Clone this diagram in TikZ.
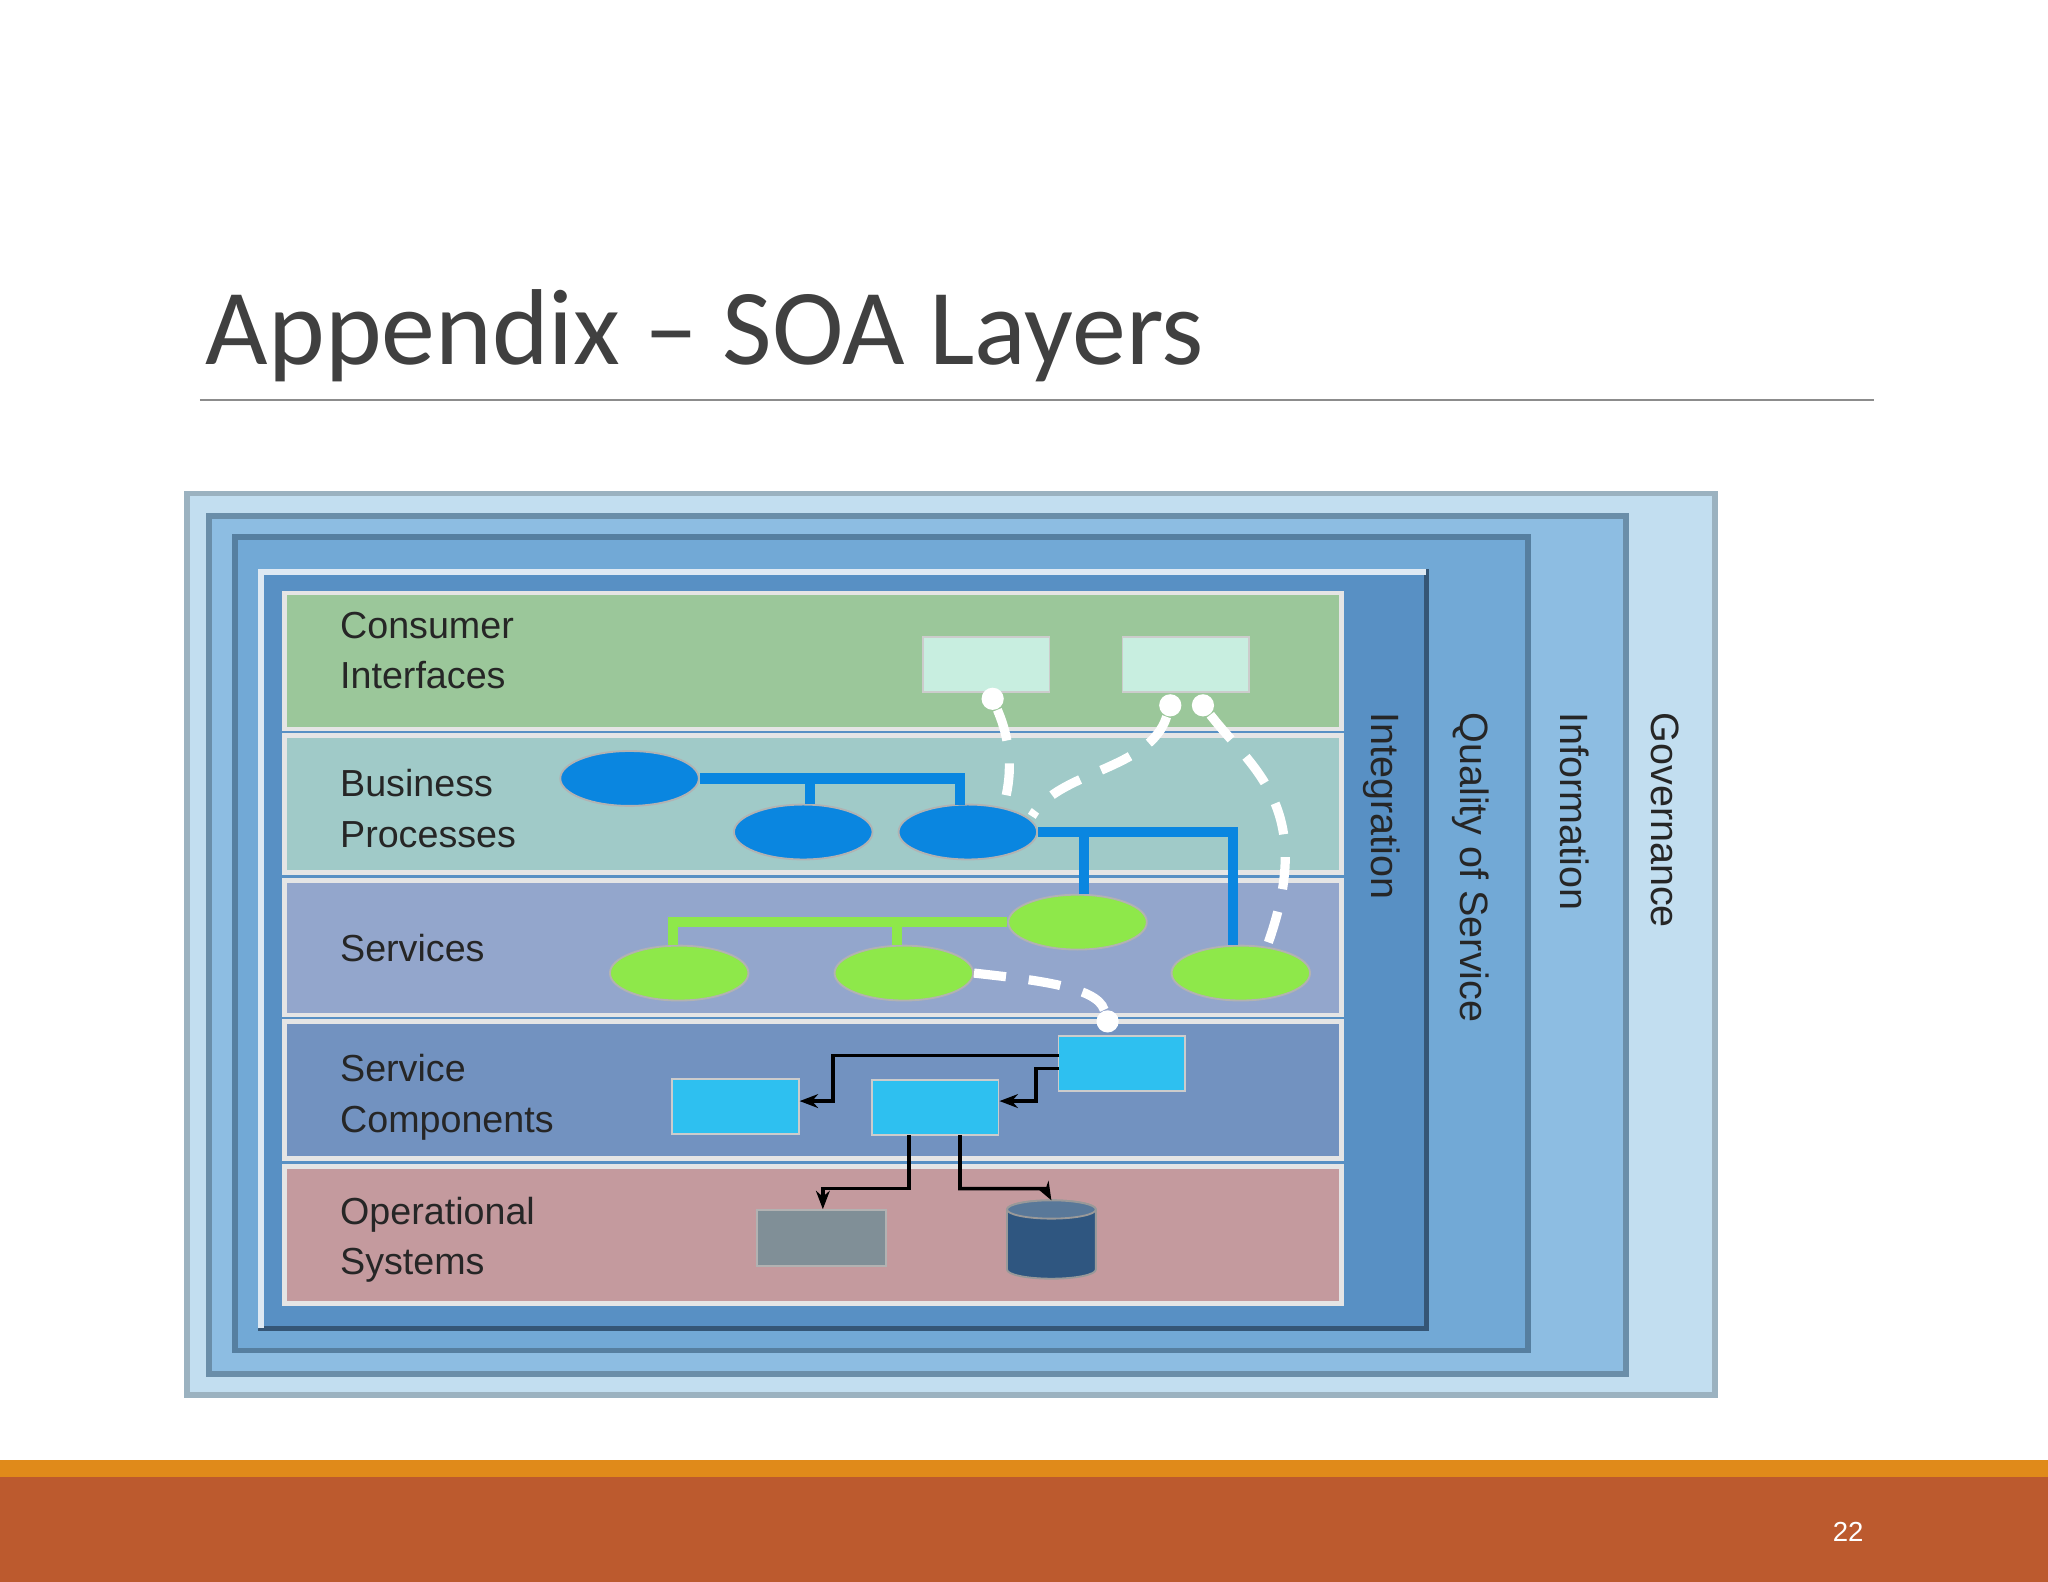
\documentclass[tikz,border=0pt]{standalone}
\usepackage{fontspec}
\setmainfont{Liberation Sans}
\newfontfamily\titlefont{Carlito}
\usetikzlibrary{arrows.meta,shapes.geometric}
\definecolor{gov}{HTML}{C2DEF0}
\definecolor{info}{HTML}{8DBDE2}
\definecolor{qos}{HTML}{72A9D6}
\definecolor{integ}{HTML}{5890C4}
\definecolor{cons}{HTML}{9BC79A}
\definecolor{bus}{HTML}{A0CAC8}
\definecolor{serv}{HTML}{93A6CC}
\definecolor{scomp}{HTML}{7292C0}
\definecolor{ops}{HTML}{C49A9E}
\definecolor{bblue}{HTML}{0A86E0}
\definecolor{lgreen}{HTML}{8EE84A}
\definecolor{cyanbox}{HTML}{2EC0F0}
\definecolor{mint}{HTML}{C8EEE0}
\definecolor{band}{HTML}{BC5A2E}
\definecolor{strip}{HTML}{E08A1A}
\definecolor{cyl}{HTML}{2F5680}
\tikzset{
 frame/.style={line width=1.2pt},
 layer/.style={draw=white!80!gray, line width=1pt},
 lbl/.style={anchor=west, align=left, font=\fontsize{8.2pt}{11pt}\selectfont, text=black!85},
 vlbl/.style={anchor=north west, rotate=-90, font=\fontsize{8.6pt}{10pt}\selectfont, text=black!85, inner sep=0pt},
 ell/.style={ellipse, minimum width=1.06cm, minimum height=0.42cm, draw=black!30, inner sep=0pt},
 cbox/.style={minimum width=0.97cm, minimum height=0.42cm, inner sep=0pt, draw=black!20},
 bl/.style={bblue, line width=2.2pt},
 gl/.style={lgreen, line width=2.2pt},
 dsh/.style={white, line width=2pt, dash pattern=on 7pt off 5pt},
 dot/.style={circle, fill=white, inner sep=0pt, minimum size=0.17cm},
 arr/.style={black, line width=0.8pt, -{Stealth[length=4pt]}}
}
\begin{document}
\begin{tikzpicture}[x=0.01cm,y=-0.01cm]
\useasboundingbox (0,0) rectangle (1568,1211);
\fill[white] (0,0) rectangle (1568,1211);
\node[anchor=base west, inner sep=0pt, text=black!75, font=\titlefont\fontsize{23.5pt}{25pt}\selectfont] (title) at (157,279) {Appendix – SOA Layers};
\draw[black!45, line width=0.4pt] (153,306) -- (1435,306);
\fill[strip] (0,1118) rectangle (1568,1131);
\fill[band] (0,1131) rectangle (1568,1211);
\node[text=white, font=\fontsize{6pt}{7pt}\selectfont] (pg) at (1415,1173) {22};
% nested frames
\draw[frame, fill=gov, draw=gov!80!black] (143,378) rectangle (1313,1068);
\draw[frame, fill=info, draw=info!75!black] (160,395) rectangle (1245,1052);
\draw[frame, fill=qos, draw=qos!75!black] (180,411) rectangle (1170,1034);
\draw[frame, fill=integ, draw=integ!60!black] (200,438) rectangle (1092,1017);
\draw[white!80!integ, line width=1.2pt] (200,1017) -- (200,438) -- (1092,438);
% layers
\draw[layer, fill=cons] (218,454) rectangle (1027,558);
\draw[layer, fill=bus] (218,563) rectangle (1027,668);
\draw[layer, fill=serv] (218,674) rectangle (1027,777);
\draw[layer, fill=scomp] (218,782) rectangle (1027,887);
\draw[layer, fill=ops] (218,893) rectangle (1027,998);
\node[lbl] (l1) at (248,498) {Consumer\\Interfaces};
\node[lbl] (l2) at (248,619) {Business\\Processes};
\node[lbl] (l3) at (248,726) {Services};
\node[lbl] (l4) at (248,840) {Service\\Components};
\node[lbl] (l5) at (248,949) {Operational\\Systems};
\node[vlbl] (v1) at (1073,545) {Integration};
\node[vlbl] (v2) at (1141,545) {Quality of Service};
\node[vlbl] (v3) at (1217,545) {Information};
\node[vlbl] (v4) at (1286,545) {Governance};
% consumer boxes
\node[cbox, fill=mint] (c1) at (755,509) {};
\node[cbox, fill=mint] (c2) at (908,509) {};
% business ellipses
\node[ell, fill=bblue] (b1) at (482,596) {};
\node[ell, fill=bblue] (b2) at (615,637) {};
\node[ell, fill=bblue] (b3) at (741,637) {};
% service ellipses
\node[ell, fill=lgreen] (s1) at (520,745) {};
\node[ell, fill=lgreen] (s2) at (692,745) {};
\node[ell, fill=lgreen] (s3) at (825,706) {};
\node[ell, fill=lgreen] (s4) at (950,745) {};
% blue connectors
\draw[bl] (b1.east) -- (735,596) -- (735,616);
\draw[bl] (620,596) -- (b2.north -| 620,0);
\draw[bl] (b3.east) -- (944,637) -- (s4.north -| 944,0);
\draw[bl] (830,637) -- (s3.north -| 830,0);
% green connectors
\draw[gl] (s3.west) -- (515,706) -- (s1.north -| 515,0);
\draw[gl] (687,706) -- (s2.north -| 687,0);
% dashed
\node[dot] (d1) at (760,535) {};
\node[dot] (d2) at (896,540) {};
\node[dot] (d3) at (921,540) {};
\node[dot] (d4) at (848,782) {};
\draw[dsh] (d1) .. controls (775,570) and (775,595) .. (768,618);
\draw[dsh] (d2) .. controls (880,590) and (810,590) .. (790,625);
\draw[dsh] (d3) .. controls (960,590) and (1010,620) .. (968,730);
\draw[dsh] (s2.east) .. controls (790,750) and (840,755) .. (d4);
% service components
\node[cbox, fill=cyanbox] (k1) at (859,814) {};
\node[cbox, fill=cyanbox] (k2) at (716,848) {};
\node[cbox, fill=cyanbox] (k3) at (563,847) {};
\draw[arr] (811,808) -- (638,808) -- (638,843) -- (k3.east |- 0,843);
\draw[arr] (811,818) -- (793,818) -- (793,843) -- (k2.east |- 0,843);
% operational
\node[minimum width=0.99cm, minimum height=0.43cm, inner sep=0pt, fill=black!35!cyan!25!gray, draw=black!30] (o1) at (629,948) {};
\coordinate (o2) at (805,919);
\fill[cyl, draw=black!40] (771,926) -- (771,972) arc[x radius=34, y radius=-7, start angle=180, end angle=360] -- (839,926) arc[x radius=34, y radius=-7, start angle=0, end angle=180] -- cycle;
\draw[black!40, fill=cyl!80!white] (805,926) ellipse[x radius=34, y radius=7];
\draw[arr] (696,869) -- (696,910) -- (630,910) -- (o1.north -| 630,0);
\draw[arr] (735,869) -- (735,910) -- (800,910) -- (o2);
\end{tikzpicture}
\end{document}
